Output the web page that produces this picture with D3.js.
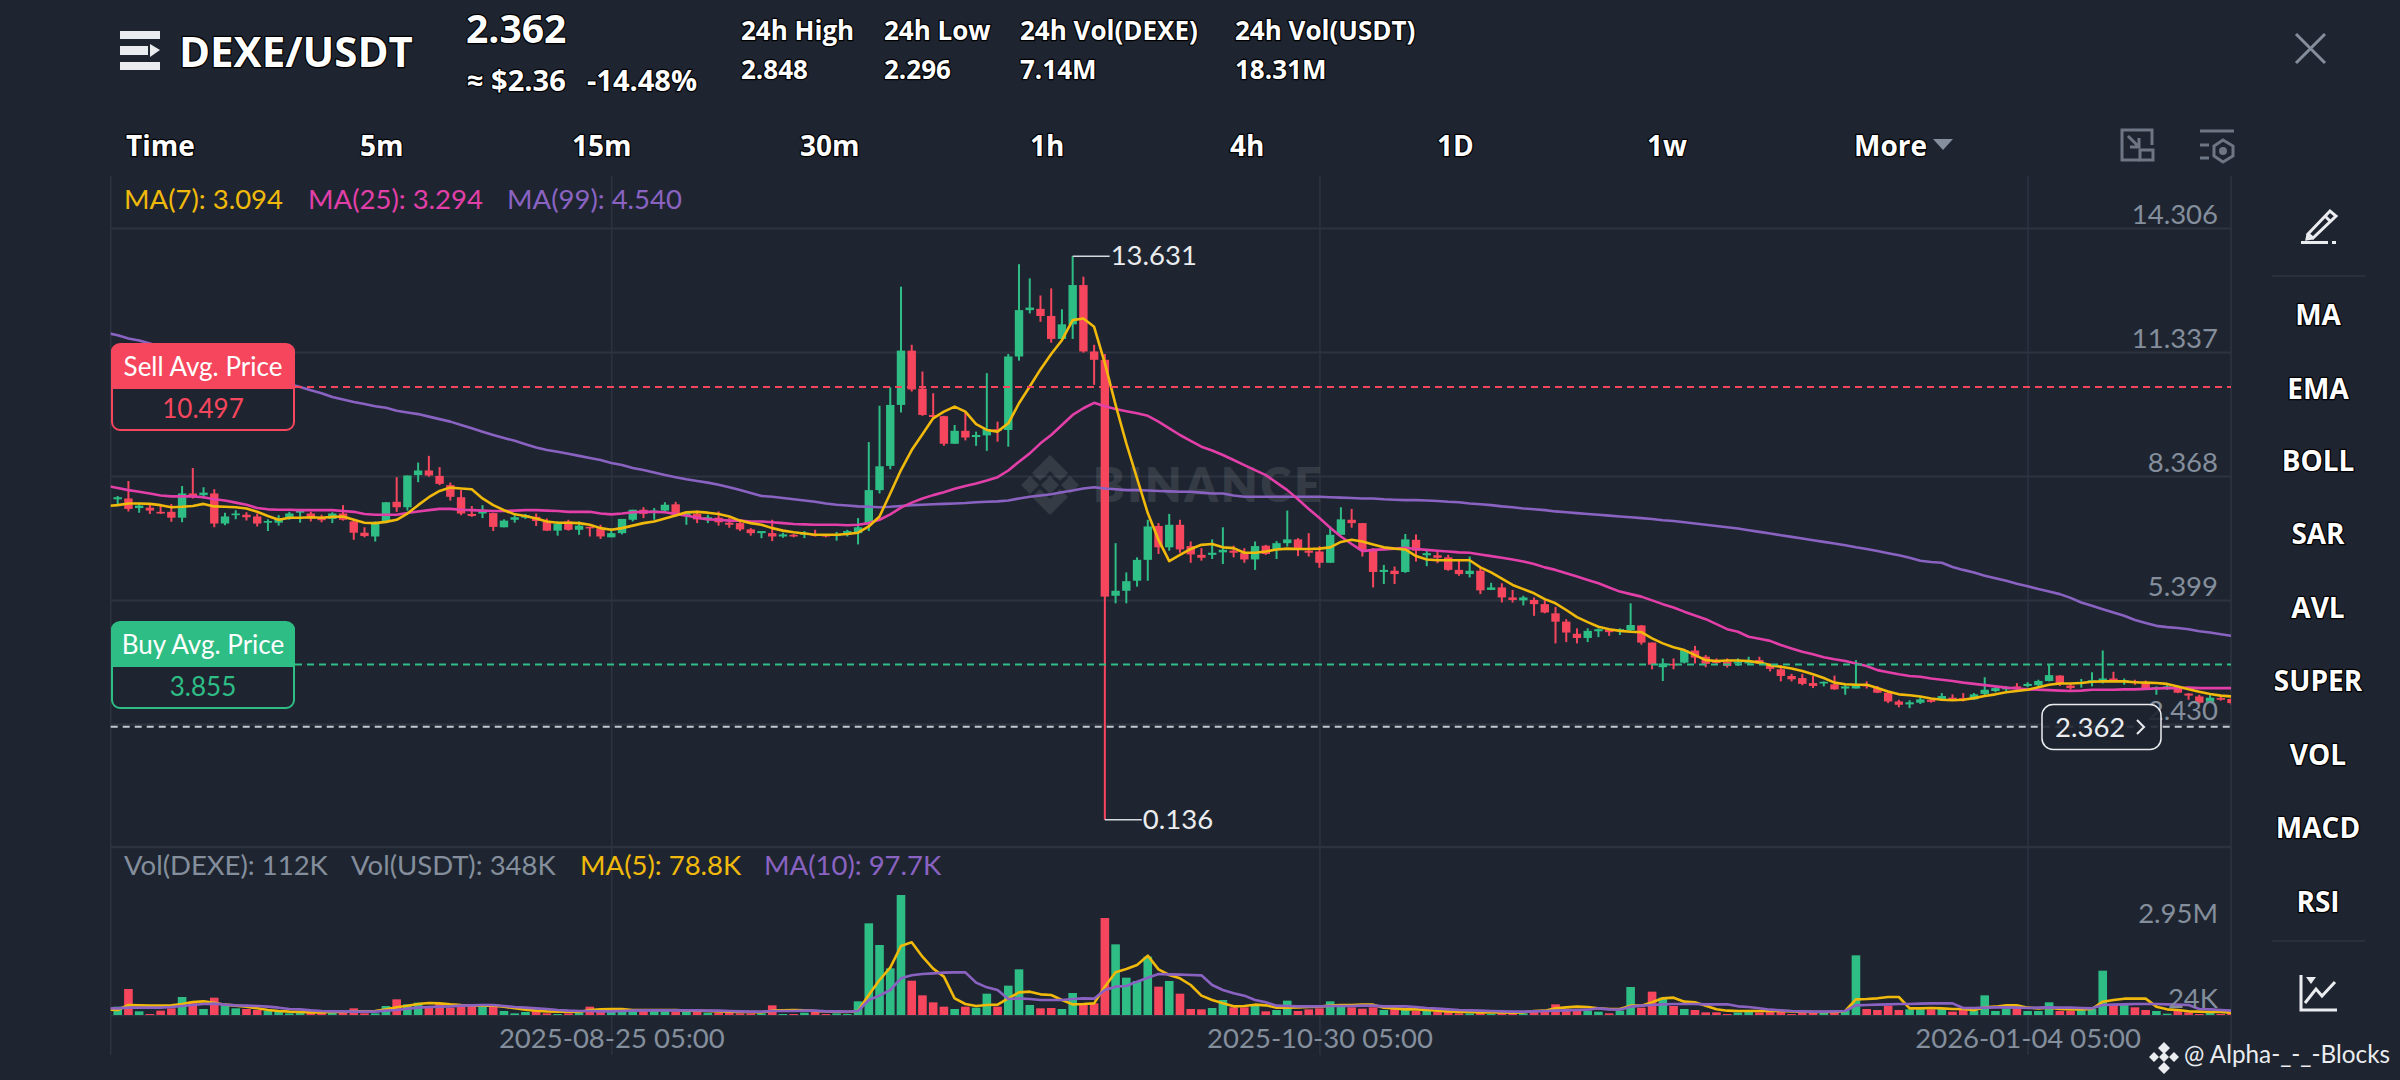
<!DOCTYPE html>
<html><head><meta charset="utf-8">
<script src="https://cdn.jsdelivr.net/npm/d3@7/dist/d3.min.js"></script>
<style>
html,body{margin:0;padding:0;background:#1e2530;width:2400px;height:1080px;overflow:hidden}
svg{display:block}
text{font-family:Lato,sans-serif}
.ui{font-family:"Open Sans",sans-serif;font-weight:700;fill:#fff;paint-order:stroke;stroke:#000;stroke-width:2.5px;stroke-linejoin:round}
.domain{display:none}
</style></head><body>
<svg id="c" width="2400" height="1080"></svg>
<script>
const opens=[7.81,7.83,7.60,7.61,7.51,7.51,7.37,7.95,7.91,7.95,
7.23,7.43,7.44,7.40,7.25,7.25,7.35,7.49,7.47,7.36,
7.34,7.47,7.28,7.01,6.92,7.28,7.75,7.62,8.39,8.50,
8.37,8.15,7.86,7.46,7.47,7.48,7.14,7.32,7.37,7.39,
7.28,7.06,7.28,7.08,7.15,7.12,6.90,7.00,7.32,7.56,
7.51,7.54,7.69,7.41,7.46,7.34,7.37,7.25,7.24,7.09,
7.00,7.00,6.92,6.96,6.96,6.98,6.96,6.93,6.96,7.00,
7.24,8.03,8.61,10.07,11.37,10.46,9.83,9.80,9.14,9.45,
9.30,9.34,9.49,9.47,11.23,12.34,12.37,12.20,11.65,12.00,
12.94,11.35,11.15,5.50,5.62,5.86,6.36,7.17,6.66,7.20,
6.69,6.48,6.48,6.54,6.58,6.52,6.37,6.70,6.61,6.76,
6.85,6.58,6.56,6.29,6.96,7.32,7.24,6.58,6.07,6.10,
6.07,6.84,6.47,6.47,6.42,6.12,6.02,6.10,5.64,5.70,
5.46,5.39,5.40,5.30,5.08,4.88,4.59,4.49,4.65,4.68,
4.67,4.67,4.79,4.38,3.79,3.87,3.90,4.19,4.04,3.93,
3.92,3.88,3.88,3.96,3.82,3.74,3.58,3.53,3.41,3.40,
3.38,3.28,3.28,3.37,3.29,3.18,2.97,2.90,2.94,3.01,
3.02,3.06,3.05,3.02,3.15,3.22,3.26,3.33,3.34,3.36,
3.46,3.59,3.35,3.40,3.43,3.45,3.52,3.44,3.46,3.42,
3.27,3.28,3.29,3.16,3.09,2.96,3.05,3.03];
const highs=[7.89,8.25,7.73,7.71,7.65,7.70,8.13,8.56,8.10,8.05,
7.49,7.55,7.50,7.47,7.33,7.43,7.51,7.57,7.51,7.44,
7.50,7.67,7.35,7.14,7.28,7.74,8.34,8.38,8.69,8.85,
8.58,8.21,8.03,7.65,7.67,7.49,7.33,7.43,7.46,7.47,
7.35,7.28,7.32,7.28,7.16,7.20,7.12,7.34,7.56,7.62,
7.60,7.74,7.75,7.49,7.54,7.44,7.52,7.36,7.32,7.12,
7.05,7.32,7.01,6.98,7.05,7.08,6.98,7.03,7.08,7.36,
9.18,10.05,10.49,12.90,11.51,10.87,10.35,9.81,9.59,9.91,
9.43,10.83,9.67,11.29,13.44,13.10,12.69,12.86,12.36,13.631,
13.14,11.51,11.29,6.76,6.06,6.42,7.32,7.24,7.46,7.32,
6.80,6.64,6.85,7.14,6.70,6.64,6.80,6.72,6.81,7.54,
6.88,7.00,6.69,7.17,7.62,7.58,7.24,6.64,6.24,6.20,
6.98,6.97,6.58,6.60,6.48,6.37,6.44,6.16,5.81,5.80,
5.64,5.50,5.46,5.40,5.23,4.94,4.72,4.72,4.72,4.72,
4.72,5.32,4.80,4.38,4.00,4.00,4.22,4.30,4.08,4.00,
4.00,4.00,4.04,4.04,3.88,3.84,3.63,3.63,3.58,3.45,
3.59,3.37,3.96,3.45,3.34,3.21,3.01,3.00,3.09,3.02,
3.17,3.14,3.17,3.17,3.55,3.33,3.34,3.41,3.43,3.49,
3.84,3.60,3.41,3.51,3.67,4.19,3.68,3.52,3.49,3.47,
3.33,3.37,3.33,3.17,3.13,3.12,3.09,3.05];
const lows=[7.70,7.52,7.49,7.46,7.46,7.27,7.26,7.83,7.83,7.14,
7.19,7.33,7.30,7.16,7.05,7.18,7.32,7.25,7.28,7.26,
7.24,7.30,6.84,6.90,6.80,7.24,7.51,7.54,8.22,8.35,
8.15,7.78,7.43,7.39,7.36,7.05,7.14,7.25,7.34,7.17,
7.05,6.94,7.06,6.96,6.92,6.86,6.90,6.97,7.28,7.36,
7.32,7.52,7.40,7.20,7.24,7.24,7.18,7.13,7.05,6.94,
6.88,6.81,6.89,6.90,6.88,6.92,6.90,6.82,6.92,6.73,
7.05,7.95,8.53,9.89,10.39,9.81,9.75,9.09,9.14,9.22,
9.09,8.97,9.19,9.07,11.13,12.26,12.06,11.56,11.62,11.65,
11.32,10.55,0.136,5.32,5.32,5.72,5.86,6.50,6.58,6.53,
6.29,6.34,6.38,6.26,6.42,6.29,6.12,6.48,6.38,6.68,
6.45,6.44,6.17,6.29,6.96,7.13,6.44,5.70,5.78,5.78,
6.05,6.32,6.21,6.28,6.10,5.98,5.94,5.54,5.64,5.34,
5.34,5.27,5.02,5.08,4.36,4.39,4.36,4.39,4.51,4.54,
4.56,4.64,4.33,3.74,3.46,3.74,3.88,3.88,3.79,3.87,
3.78,3.82,3.85,3.86,3.69,3.45,3.45,3.36,3.29,3.33,
3.25,3.13,3.28,3.28,3.17,2.93,2.83,2.81,2.91,2.94,
2.98,2.98,2.97,3.01,3.11,3.19,3.21,3.21,3.31,3.33,
3.45,3.34,3.25,3.30,3.33,3.40,3.45,3.37,3.37,3.25,
3.13,3.25,3.17,3.01,2.91,2.94,2.99,2.89];
const closes=[7.86,7.58,7.66,7.54,7.47,7.37,7.95,7.87,7.97,7.23,
7.40,7.47,7.38,7.23,7.29,7.34,7.47,7.53,7.35,7.31,
7.47,7.32,7.01,6.93,7.24,7.74,7.62,8.38,8.50,8.38,
8.18,7.87,7.47,7.41,7.52,7.15,7.30,7.38,7.43,7.29,
7.06,7.22,7.08,7.18,7.12,6.92,7.00,7.34,7.56,7.46,
7.54,7.68,7.44,7.48,7.33,7.38,7.26,7.20,7.09,7.00,
7.05,6.92,6.97,6.92,7.01,6.93,6.92,6.98,7.05,7.14,
8.03,8.60,10.07,11.37,10.44,9.83,9.78,9.14,9.45,9.29,
9.35,9.49,9.45,11.23,12.34,12.40,12.20,11.65,12.00,12.94,
11.35,11.15,5.48,5.62,5.85,6.36,7.16,6.66,7.20,6.61,
6.49,6.41,6.53,6.60,6.53,6.37,6.69,6.50,6.76,6.85,
6.60,6.53,6.29,6.96,7.33,7.24,6.60,6.07,6.12,6.02,
6.85,6.58,6.52,6.41,6.12,6.02,6.10,5.63,5.70,5.46,
5.40,5.46,5.30,5.10,4.88,4.62,4.49,4.66,4.70,4.63,
4.70,4.80,4.38,3.85,3.88,3.84,4.20,4.02,3.87,3.89,
3.82,3.92,3.94,3.88,3.75,3.58,3.50,3.39,3.34,3.44,
3.26,3.33,3.39,3.33,3.18,2.97,2.89,2.95,3.02,2.96,
3.10,3.02,3.01,3.14,3.25,3.29,3.31,3.26,3.39,3.46,
3.60,3.41,3.29,3.44,3.48,3.52,3.45,3.48,3.42,3.26,
3.31,3.33,3.18,3.11,2.94,3.06,3.01,2.93];
const volumes=[275,858,121,33,143,220,594,440,198,572,
308,220,198,165,132,110,55,110,77,77,
110,110,220,55,55,297,517,352,407,275,
385,242,275,297,275,275,132,55,99,165,
55,33,55,77,275,143,110,110,110,143,
132,132,110,110,110,77,77,77,55,55,
55,319,33,33,77,110,33,55,33,451,
3025,2310,1540,3960,1133,649,418,275,198,275,
242,704,275,968,1507,330,220,231,198,726,
385,385,3201,2332,1232,1122,1925,935,1122,704,
198,187,231,495,253,253,330,121,165,473,
132,187,220,451,363,253,209,253,165,198,
198,132,132,110,110,55,55,77,33,77,
77,55,110,110,352,132,132,143,110,55,
143,924,242,770,572,297,198,165,88,88,
33,88,165,88,110,110,33,88,77,88,
88,165,1969,198,165,308,165,187,187,187,
220,110,165,132,649,132,220,242,132,132,
418,132,132,176,198,1463,330,330,253,165,
132,44,132,88,33,77,33,112];
/* moving-average arrays start one day before the first visible candle */
const ma7=[7.65,7.67,7.71,7.71,7.70,7.67,7.62,7.63,7.65,7.70,7.64,
7.63,7.62,7.59,7.51,7.41,7.32,7.37,7.37,7.38,7.37,
7.39,7.40,7.32,7.25,7.24,7.27,7.32,7.47,7.67,7.86,
8.01,8.09,8.07,8.05,7.83,7.67,7.55,7.45,7.41,7.35,
7.28,7.25,7.25,7.24,7.20,7.12,7.08,7.12,7.18,7.24,
7.28,7.35,7.42,7.50,7.51,7.49,7.46,7.40,7.30,7.24,
7.20,7.12,7.06,7.02,6.99,6.96,6.96,6.96,6.98,7.01,
7.16,7.40,7.95,8.51,8.99,9.37,9.75,9.91,10.03,9.91,
9.61,9.47,9.43,9.63,10.11,10.51,10.92,11.29,11.62,12.10,
12.14,11.94,11.07,10.07,9.15,8.31,7.48,6.84,6.33,6.48,
6.62,6.72,6.74,6.66,6.64,6.53,6.53,6.56,6.61,6.63,
6.62,6.62,6.63,6.66,6.79,6.84,6.80,6.73,6.66,6.63,
6.61,6.45,6.37,6.35,6.35,6.35,6.35,6.18,6.06,5.91,
5.76,5.66,5.56,5.42,5.32,5.16,4.99,4.87,4.76,4.70,
4.66,4.64,4.63,4.48,4.36,4.27,4.20,4.08,3.96,3.94,
3.95,3.95,3.94,3.90,3.84,3.80,3.76,3.70,3.62,3.53,
3.42,3.38,3.37,3.37,3.29,3.21,3.14,3.12,3.09,3.04,
3.01,3.00,3.01,3.05,3.10,3.14,3.19,3.22,3.25,3.31,
3.37,3.40,3.40,3.41,3.44,3.45,3.45,3.45,3.43,3.42,
3.41,3.39,3.33,3.26,3.20,3.15,3.11,3.09];
const ma25=[8.13,8.08,8.03,7.99,7.95,7.90,7.88,7.88,7.88,7.86,7.81,
7.78,7.73,7.68,7.60,7.57,7.56,7.56,7.55,7.55,7.55,
7.55,7.53,7.51,7.46,7.44,7.44,7.44,7.48,7.52,7.55,
7.58,7.58,7.56,7.55,7.54,7.53,7.53,7.54,7.55,7.55,
7.54,7.53,7.51,7.51,7.51,7.47,7.45,7.47,7.50,7.51,
7.51,7.50,7.46,7.42,7.37,7.33,7.32,7.30,7.30,7.28,
7.28,7.26,7.24,7.22,7.21,7.20,7.20,7.20,7.19,7.20,
7.24,7.32,7.45,7.61,7.73,7.83,7.91,7.98,8.06,8.13,
8.19,8.26,8.34,8.50,8.71,8.91,9.15,9.35,9.59,9.83,
9.99,10.12,10.04,9.97,9.92,9.87,9.81,9.67,9.51,9.35,
9.21,9.07,8.98,8.87,8.75,8.63,8.51,8.39,8.21,8.03,
7.81,7.58,7.36,7.13,6.92,6.74,6.57,6.60,6.61,6.63,
6.65,6.62,6.60,6.58,6.56,6.54,6.53,6.49,6.45,6.41,
6.37,6.32,6.26,6.18,6.12,6.04,5.96,5.88,5.80,5.70,
5.60,5.54,5.48,5.39,5.30,5.22,5.12,5.03,4.94,4.82,
4.70,4.64,4.52,4.47,4.42,4.32,4.24,4.16,4.10,4.03,
3.98,3.94,3.88,3.82,3.72,3.67,3.62,3.58,3.56,3.52,
3.49,3.46,3.42,3.39,3.36,3.33,3.30,3.28,3.26,3.25,
3.24,3.23,3.22,3.23,3.25,3.25,3.25,3.26,3.26,3.27,
3.28,3.29,3.29,3.30,3.29,3.29,3.29,3.29];
const ma99=[11.79,11.74,11.66,11.61,11.54,11.46,11.39,11.31,11.24,11.17,11.09,
11.02,10.95,10.87,10.79,10.72,10.64,10.57,10.50,10.42,10.35,
10.26,10.20,10.14,10.09,10.04,10.00,9.93,9.89,9.85,9.79,
9.73,9.67,9.59,9.51,9.43,9.35,9.28,9.21,9.13,9.05,
8.99,8.95,8.90,8.85,8.80,8.75,8.68,8.63,8.56,8.51,
8.45,8.39,8.34,8.29,8.25,8.21,8.16,8.10,8.03,7.96,
7.89,7.87,7.84,7.81,7.78,7.75,7.71,7.68,7.66,7.64,
7.63,7.62,7.63,7.65,7.67,7.68,7.69,7.70,7.71,7.72,
7.74,7.75,7.76,7.78,7.83,7.87,7.90,7.93,7.98,8.02,
8.07,8.10,8.07,8.05,8.03,8.03,8.02,8.01,8.00,7.99,
7.99,7.97,7.95,7.95,7.90,7.87,7.87,7.87,7.87,7.87,
7.87,7.87,7.87,7.86,7.85,7.84,7.83,7.83,7.81,7.80,
7.79,7.79,7.78,7.77,7.75,7.74,7.71,7.69,7.67,7.64,
7.62,7.59,7.57,7.55,7.52,7.50,7.48,7.46,7.44,7.42,
7.40,7.38,7.36,7.34,7.31,7.29,7.26,7.23,7.20,7.17,
7.14,7.11,7.07,7.03,6.99,6.95,6.91,6.87,6.83,6.79,
6.75,6.71,6.66,6.62,6.57,6.52,6.47,6.41,6.34,6.31,
6.29,6.19,6.12,6.06,5.98,5.92,5.86,5.79,5.73,5.66,
5.60,5.54,5.45,5.34,5.26,5.18,5.10,5.02,4.92,4.85,
4.78,4.75,4.73,4.70,4.65,4.62,4.58,4.54];
const volMa5=[176,165,330,319,308,308,319,363,429,451,407,
341,308,275,220,165,132,110,99,88,88,
99,99,121,121,132,187,253,308,363,396,
385,352,330,319,308,308,275,220,176,143,
121,110,110,99,165,187,198,198,165,165,
165,165,165,143,143,132,121,110,99,99,
88,143,154,165,154,132,121,110,99,143,
660,1155,1562,2277,2398,1925,1529,1265,550,363,
297,330,341,550,748,770,682,660,495,352,
363,385,935,1408,1518,1650,1958,1507,1320,1210,
990,638,495,385,286,297,341,319,242,242,
253,264,275,308,330,330,341,341,242,220,
187,187,165,143,121,99,99,88,88,88,
77,88,132,143,220,253,275,264,220,198,
198,308,308,418,550,572,440,418,308,187,
143,132,132,132,132,132,121,110,99,99,
99,132,517,528,550,594,594,220,220,231,
220,198,198,154,253,275,319,319,242,220,
242,198,187,187,198,440,495,539,539,539,
275,187,165,121,110,99,99,77];
const volMa10=[220,220,242,242,242,242,264,297,330,363,374,
341,319,308,297,275,242,198,187,154,132,
121,121,110,110,110,143,165,209,242,264,
275,286,308,319,330,330,297,264,242,220,
198,165,143,132,132,121,121,132,143,154,
154,154,154,154,154,143,143,132,121,110,
110,132,132,132,143,143,121,121,110,132,
495,638,825,1210,1309,1353,1375,1397,1408,1408,
1067,913,825,528,550,528,495,495,495,528,
550,539,825,935,957,1100,1232,1353,1342,1331,
1320,1309,990,825,715,638,495,418,308,297,
286,286,286,297,297,297,308,308,286,286,
286,264,231,209,187,165,154,143,132,121,
110,110,121,132,143,154,165,176,220,187,
176,275,308,330,352,363,363,363,352,352,
352,286,264,220,176,154,132,121,110,110,
121,132,319,330,341,352,363,363,374,385,
385,385,231,231,242,253,253,242,231,242,
253,242,242,231,220,330,341,352,363,363,
363,352,341,330,198,187,165,143];
const priceTicks=[14.306,11.337,8.368,5.399,2.430];
const volTicks=[{v:2950,label:"2.95M"},{v:24,label:"24K"}];
const dateTicks=[46,112,178];
const dateLabels=["2025-08-25 05:00","2025-10-30 05:00","2026-01-04 05:00"];
const sellAvg=10.497,buyAvg=3.855,lastPrice=2.362,highPrice=13.631,lowPrice=0.136;
const tabs=["Time","5m","15m","30m","1h","4h","1D","1w","More"];
const toolbar=["MA","EMA","BOLL","SAR","AVL","SUPER","VOL","MACD","RSI"];

const GREEN="#2ebd85",RED="#f6465d",GRID="#2d3440",MUTED="#848e9c",YEL="#f0b90b",PINK="#e23fa9",PUR="#8a63c2";
const svg=d3.select("#c");
const x=d3.scaleLinear().domain([0,197]).range([117.7,2231.5]);
const y=d3.scaleLinear().domain([14.306,2.430]).range([228,724]);
const yv=d3.scaleLinear().domain([0,3960]).range([1015,895]);
const L=110.7,R=2231;
const n=closes.length,idx=d3.range(n);

svg.append("clipPath").attr("id","plot").append("rect").attr("x",L).attr("y",176).attr("width",R-L).attr("height",880);

/* grid via axes */
const gy=svg.append("g").attr("transform",`translate(${R},0)`).call(
  d3.axisLeft(y).tickValues(priceTicks).tickSize(R-L).tickFormat(d3.format(".3f")));
gy.selectAll("line").attr("stroke",GRID).attr("stroke-width",2);
gy.selectAll("text").remove();
const gx=svg.append("g").attr("transform","translate(0,1055)").call(
  d3.axisBottom(x).tickValues(dateTicks).tickSize(-879).tickFormat((d,i)=>dateLabels[i]));
gx.selectAll("line").attr("stroke",GRID).attr("stroke-width",1.5);
gx.selectAll("text").attr("y",-7).attr("dy",0).attr("fill",MUTED).attr("font-size",27.5).attr("font-family","Lato").attr("text-anchor","middle");
[L,R].forEach(v=>svg.append("line").attr("x1",v).attr("x2",v).attr("y1",176).attr("y2",1055).attr("stroke",GRID).attr("stroke-width",1.5));
svg.append("line").attr("x1",L).attr("x2",R).attr("y1",847).attr("y2",847).attr("stroke",GRID).attr("stroke-width",2.5);
svg.append("line").attr("x1",L).attr("x2",R).attr("y1",1015.5).attr("y2",1015.5).attr("stroke",GRID).attr("stroke-width",1.5);

/* watermark */
const wm=svg.append("g").attr("fill","#fff").attr("opacity",.1);
wm.append("text").attr("x",1093).attr("y",502).attr("font-size",47).attr("font-weight",800).attr("letter-spacing",3).attr("font-family","Lato").text("BINANCE");
const logo=wm.append("g").attr("transform","translate(1050,485)");
logo.append("path").attr("d","M0-30L18-12L10-4L0-14L-10-4L-18-12Z M0 30L18 12L10 4L0 14L-10 4L-18 12Z M-29 0L-20-9L-11 0L-20 9Z M29 0L20-9L11 0L20 9Z M0-9L9 0L0 9L-9 0Z");

const plot=svg.append("g").attr("clip-path","url(#plot)");
/* candles */
const cg=plot.append("g");
const colr=i=>closes[i]>=opens[i]?GREEN:RED;
cg.selectAll("line.w").data(idx).join("line").attr("class","w")
  .attr("x1",i=>x(i)).attr("x2",i=>x(i)).attr("y1",i=>y(highs[i])).attr("y2",i=>y(lows[i]))
  .attr("stroke",colr).attr("stroke-width",2);
cg.selectAll("rect.b").data(idx).join("rect").attr("class","b")
  .attr("x",i=>x(i)-4.2).attr("width",8.4)
  .attr("y",i=>y(Math.max(opens[i],closes[i])))
  .attr("height",i=>Math.max(1.5,Math.abs(y(opens[i])-y(closes[i]))))
  .attr("fill",colr);
/* volume */
plot.append("g").selectAll("rect").data(idx).join("rect")
  .attr("x",i=>x(i)-4.3).attr("width",8.6)
  .attr("y",i=>yv(volumes[i])).attr("height",i=>yv(0)-yv(volumes[i]))
  .attr("fill",colr);
/* MA lines: array index 0 is the day before candle 0 */
const pl=a=>d3.line().x((d,i)=>x(i-1)).y(d=>y(d))(a);
const vl=a=>d3.line().x((d,i)=>x(i-1)).y(d=>yv(d))(a);
[[ma99,PUR],[ma25,PINK],[ma7,YEL]].forEach(([a,c])=>plot.append("path").attr("d",pl(a)).attr("fill","none").attr("stroke",c).attr("stroke-width",2.6).attr("stroke-linejoin","round"));
[[volMa5,YEL],[volMa10,PUR]].forEach(([a,c])=>plot.append("path").attr("d",vl(a)).attr("fill","none").attr("stroke",c).attr("stroke-width",2.6).attr("stroke-linejoin","round"));

/* avg / last lines */
const dash=(v,c,x0)=>svg.append("line").attr("x1",x0).attr("x2",R).attr("y1",y(v)).attr("y2",y(v)).attr("stroke",c).attr("stroke-width",2).attr("stroke-dasharray","7 5");
dash(sellAvg,RED,295);dash(buyAvg,GREEN,295);dash(lastPrice,"#c4c8ce",L);

/* hi / lo */
const hl=(i,v,lbl)=>{
  const gx0=x(i),yy=y(v);
  svg.append("line").attr("x1",gx0).attr("x2",gx0+37).attr("y1",yy).attr("y2",yy).attr("stroke","#d5d8dc").attr("stroke-width",1.5);
  svg.append("text").attr("x",gx0+38).attr("y",yy+9).attr("fill","#eaecef").attr("font-size",27.5).text(lbl);
};
hl(89,highPrice,"13.631");hl(92,lowPrice,"0.136");

/* axis labels */
priceTicks.forEach(v=>svg.append("text").attr("x",2218).attr("y",y(v)-4).attr("text-anchor","end").attr("fill",MUTED).attr("font-size",27.5).text(d3.format(".3f")(v)));
svg.append("text").attr("x",2218).attr("y",923).attr("text-anchor","end").attr("fill",MUTED).attr("font-size",27.5).text(volTicks[0].label);
svg.append("text").attr("x",2218).attr("y",1008).attr("text-anchor","end").attr("fill",MUTED).attr("font-size",27.5).text(volTicks[1].label);

/* avg boxes */
const box=(top,c,title,val)=>{
  svg.append("rect").attr("x",112).attr("y",top).attr("width",182).attr("height",86).attr("rx",8).attr("fill","#1e2530").attr("stroke",c).attr("stroke-width",2);
  svg.append("path").attr("d",`M111 ${top+45}V${top+8}a8 8 0 0 1 8-8h168a8 8 0 0 1 8 8V${top+45}Z`).attr("fill",c);
  svg.append("text").attr("x",203).attr("y",top+32).attr("text-anchor","middle").attr("fill","#fff").attr("font-size",26).text(title);
  svg.append("text").attr("x",203).attr("y",top+74).attr("text-anchor","middle").attr("fill",c).attr("font-size",26).text(val);
};
box(344,RED,"Sell Avg. Price","10.497");
box(622,GREEN,"Buy Avg. Price","3.855");

/* price tag */
svg.append("rect").attr("x",2042).attr("y",704.5).attr("width",119).attr("height",45).attr("rx",11).attr("fill","#1e2530").attr("fill-opacity",.9).attr("stroke","#eaecef").attr("stroke-width",1.5);
svg.append("text").attr("x",2055).attr("y",737).attr("fill","#eaecef").attr("font-size",27.5).text("2.362");
svg.append("path").attr("d","M2137 720l7 7l-7 7").attr("fill","none").attr("stroke","#eaecef").attr("stroke-width",2);

/* legends */
const leg=(x0,yy,c,t)=>svg.append("text").attr("x",x0).attr("y",yy).attr("fill",c).attr("font-size",27.5).text(t);
leg(124,209,YEL,"MA(7): 3.094");leg(308,209,PINK,"MA(25): 3.294");leg(507,209,PUR,"MA(99): 4.540");
leg(124,875,MUTED,"Vol(DEXE): 112K");leg(351,875,MUTED,"Vol(USDT): 348K");leg(580,875,YEL,"MA(5): 78.8K");leg(764,875,PUR,"MA(10): 97.7K");

/* header */
const ui=(x0,yy,s,t,a)=>svg.append("text").attr("class","ui").attr("x",x0).attr("y",yy).attr("font-size",s).attr("text-anchor",a||"start").text(t);
const hd=svg.append("g").attr("fill","#eaecef");
hd.append("rect").attr("x",120).attr("y",31).attr("width",40).attr("height",8);
hd.append("rect").attr("x",120).attr("y",46).attr("width",28).attr("height",9);
hd.append("path").attr("d","M150 44L160 50L150 57Z");
hd.append("rect").attr("x",120).attr("y",62).attr("width",40).attr("height",8);
ui(179,67,42,"DEXE/USDT").attr("font-weight",800);
ui(466,43,39,"2.362").attr("font-weight",800);
ui(467,91,29,"≈ $2.36");
ui(587,91,29,"-14.48%");
[[741,"24h High","2.848"],[884,"24h Low","2.296"],[1020,"24h Vol(DEXE)","7.14M"],[1235,"24h Vol(USDT)","18.31M"]].forEach(([a,b,c])=>{ui(a,40,26,b);ui(a,79,26,c);});
const tabX=[126,360,572,800,1030,1230,1437,1647,1854];
tabs.forEach((t,i)=>ui(tabX[i],156,28,t).attr("font-weight",i==6?800:600));
svg.append("path").attr("d","M1933 139h20l-10 11Z").attr("fill",MUTED);
svg.append("path").attr("d","M2296 34L2325 63M2325 34L2296 63").attr("stroke",MUTED).attr("stroke-width",3).attr("fill","none");

/* small icons */
const ic=svg.append("g").attr("fill","none").attr("stroke","#6e7683").attr("stroke-width",3);
ic.append("path").attr("d","M2140 160H2122V130H2152V145M2128 136L2139 147M2139 138V147H2130");
ic.append("rect").attr("x",2140).attr("y",150).attr("width",13).attr("height",10);
ic.append("path").attr("d","M2200 131H2234M2200 145H2209M2200 158H2209");
ic.append("path").attr("d","M2223 140L2233 146V156L2223 162L2214 156V146Z");
ic.append("circle").attr("cx",2223).attr("cy",151).attr("r",2.5).attr("fill","#6e7683");
const pe=svg.append("g").attr("fill","none").attr("stroke","#eaecef").attr("stroke-width",3);
pe.append("path").attr("d","M2308 234L2330 211L2336 216L2313 238Z M2308 234L2307 239L2313 238 M2325 216L2331 222");
pe.append("path").attr("d","M2301 242.5H2328M2332 242.5H2336");
svg.append("line").attr("x1",2272).attr("x2",2365).attr("y1",276).attr("y2",276).attr("stroke",GRID).attr("stroke-width",1.5);
svg.append("line").attr("x1",2272).attr("x2",2365).attr("y1",941).attr("y2",941).attr("stroke",GRID).attr("stroke-width",1.5);
const toolY=[325,399,471,544,618,691,765,838,912];
toolbar.forEach((t,i)=>ui(2318,toolY[i],28,t,"middle").attr("font-weight",800));
const ci=svg.append("g").attr("fill","none").attr("stroke","#eaecef").attr("stroke-width",3);
ci.append("path").attr("d","M2301 975V1010H2337M2305 1003L2316 989L2322 996L2335 982");
svg.append("path").attr("d","M2306 977h10l-5 7Z").attr("fill","#eaecef");

/* footer credit */
svg.append("path").attr("d","M2164 1042l6 6l-6 6l-6-6Z M2154 1052l5 5l-5 5l-5-5Z M2174 1052l5 5l-5 5l-5-5Z M2164 1052l5 5l-5 5l-5-5Z M2164 1062l6 6l-6 6l-6-6Z").attr("fill","#eaecef");
svg.append("text").attr("x",2184).attr("y",1063).attr("fill","#eaecef").attr("font-size",25).attr("textLength",206).attr("lengthAdjust","spacingAndGlyphs").text("@ Alpha-_-_-Blocks");
</script></body></html>
